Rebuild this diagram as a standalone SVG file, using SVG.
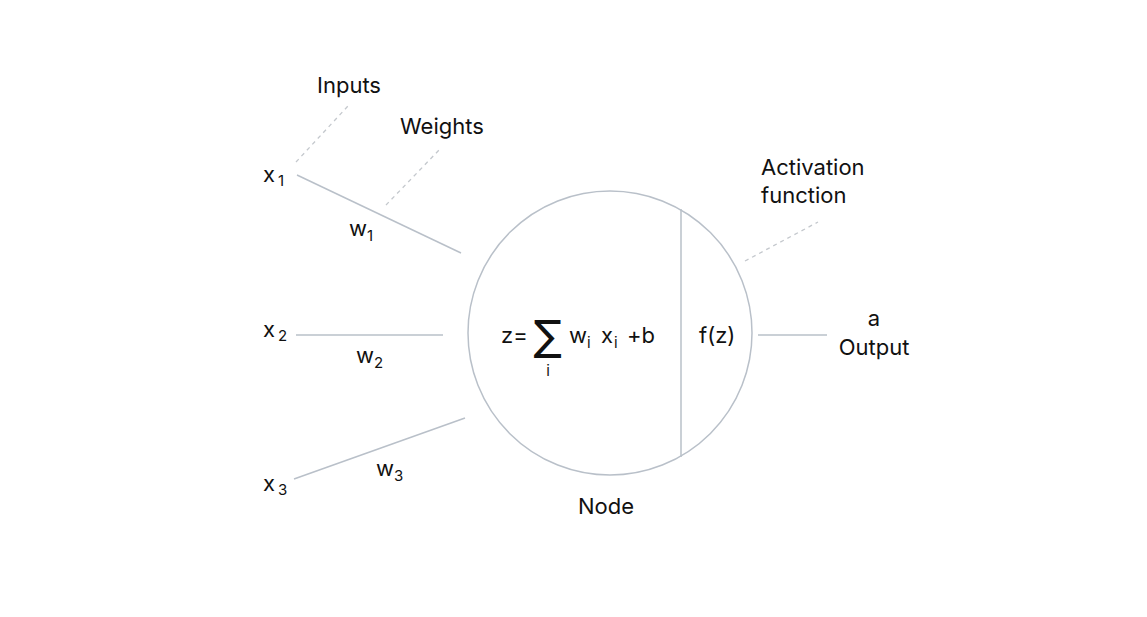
<svg xmlns="http://www.w3.org/2000/svg" width="1147" height="617" viewBox="0 0 1147 617">
<style>
text{font-family:Inter,"Liberation Sans",sans-serif;fill:#111;font-size:22px}
.sub{font-size:15px}
.sig{font-family:"DejaVu Sans",sans-serif;font-size:42px}
.ln{stroke:#b9c0c9;stroke-width:1.5;fill:none}
.ds{stroke:#c4c8cd;stroke-width:1.3;stroke-dasharray:4 4;fill:none}
</style>
<rect width="1147" height="617" fill="#fff"/>
<g id="connectors">
<line class="ln" x1="297" y1="175" x2="461" y2="253"/>
<line class="ln" x1="296" y1="335" x2="443" y2="335"/>
<line class="ln" x1="294" y1="479" x2="465" y2="418"/>
<line class="ln" x1="758" y1="335" x2="827" y2="335"/>
<line class="ds" x1="296" y1="162" x2="348" y2="106"/>
<line class="ds" x1="386" y1="205" x2="441" y2="148"/>
<line class="ds" x1="745" y1="261" x2="818" y2="222"/>
</g>
<g id="node">
<circle class="ln" cx="610" cy="333" r="142"/>
<line class="ln" x1="681" y1="209" x2="681" y2="457"/>
<text x="501" y="343">z=</text>
<text x="548" y="350" class="sig" text-anchor="middle">∑</text>
<text x="548" y="376" class="sub" text-anchor="middle">i</text>
<text x="569" y="343">w</text>
<text x="587" y="348" class="sub">i</text>
<text x="601" y="343">x</text>
<text x="614" y="348" class="sub">i</text>
<text x="627" y="343">+b</text>
<text x="699" y="343">f(z)</text>
<text x="606" y="514" text-anchor="middle">Node</text>
</g>
<g id="inputs-label"><text x="317" y="93">Inputs</text></g>
<g id="weights-label"><text x="400" y="134">Weights</text></g>
<g id="activation-label"><text x="761" y="175">Activation</text><text x="761" y="203">function</text></g>
<g id="output"><text x="874" y="326" text-anchor="middle">a</text><text x="874" y="355" text-anchor="middle">Output</text></g>
<g id="x1"><text x="263" y="182">x</text><text x="278" y="186" class="sub">1</text></g>
<g id="x2"><text x="263" y="337">x</text><text x="278" y="341" class="sub">2</text></g>
<g id="x3"><text x="263" y="491">x</text><text x="278" y="495" class="sub">3</text></g>
<g id="w1"><text x="349" y="236">w</text><text x="367" y="241" class="sub">1</text></g>
<g id="w2"><text x="356" y="363">w</text><text x="374" y="368" class="sub">2</text></g>
<g id="w3"><text x="376" y="476">w</text><text x="394" y="481" class="sub">3</text></g>
</svg>
